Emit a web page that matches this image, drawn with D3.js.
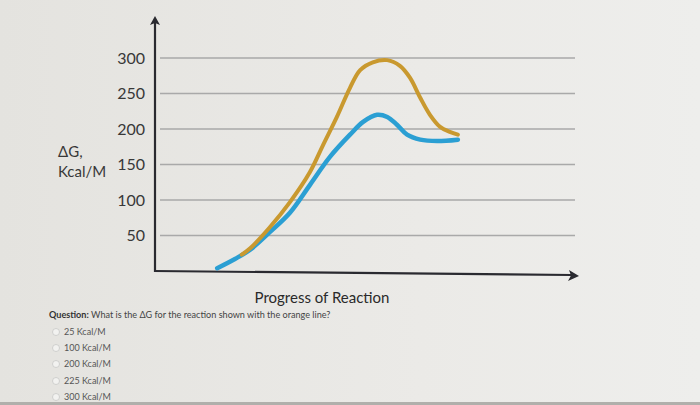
<!DOCTYPE html>
<html><head><meta charset="utf-8">
<script src="https://cdn.jsdelivr.net/npm/d3@7"></script>
<style>
html,body{margin:0;padding:0;background:#e9e8e4;}
svg{display:block;}
</style></head>
<body>
<svg id="c" width="700" height="405"></svg>
<script>
// ---- data ----
const yTicks = [50, 100, 150, 200, 250, 300];
const blueProgress = [14.7, 18.9, 22.5, 27.2, 31.9, 36.6, 41.4, 46.1, 49.2, 52.5, 54.9, 57.2, 59.6, 62.7, 66.7, 71.6];
const blueValues   = [4, 17, 30, 55, 82, 121, 161, 192, 210, 220, 217, 206, 192, 185, 183, 185];
const orangeProgress = [20.5, 22.5, 27.2, 31.9, 36.6, 39.7, 43.0, 46.1, 48.5, 51.5, 54.9, 57.9, 60.3, 62.7, 65.0, 67.4, 69.7, 71.6];
const orangeValues   = [23, 32, 62, 97, 139, 177, 217, 258, 283, 294, 297, 289, 272, 244, 220, 203, 196, 192];
const xTitle = "Progress of Reaction";
const yTitle = ["ΔG,", "Kcal/M"];
const questionLabel = "Question:";
const questionText = " What is the ΔG for the reaction shown with the orange line?";
const options = ["25 Kcal/M", "100 Kcal/M", "200 Kcal/M", "225 Kcal/M", "300 Kcal/M"];

const svg = d3.select("#c");
const font = "Lato, 'Open Sans', sans-serif";

// background
const defs = svg.append("defs");
const g1 = defs.append("linearGradient").attr("id","bg").attr("x1","0").attr("x2","1").attr("y1","0").attr("y2","0");
g1.append("stop").attr("offset","0").attr("stop-color","#e4e3df");
g1.append("stop").attr("offset","0.6").attr("stop-color","#ebeae7");
g1.append("stop").attr("offset","1").attr("stop-color","#eeeeec");
svg.append("rect").attr("width",700).attr("height",405).attr("fill","url(#bg)");
svg.append("rect").attr("y",402).attr("width",700).attr("height",3).attr("fill","#b0afab");

const x = d3.scaleLinear().domain([0, 100]).range([155, 578]);
const y = d3.scaleLinear().domain([0, 300]).range([271, 58]);

// gridlines
svg.append("g").selectAll("line").data(yTicks).join("line")
  .attr("x1", 160).attr("x2", 575)
  .attr("y1", d => y(d)).attr("y2", d => y(d))
  .attr("stroke", "#a9a9a9").attr("stroke-width", 1.6);

// y axis via d3 axis (labels only)
const yAxis = svg.append("g").attr("transform", "translate(145,0)")
  .call(d3.axisLeft(y).tickValues(yTicks).tickSize(0).tickPadding(0));
yAxis.select(".domain").remove();
yAxis.selectAll("text").attr("font-family", font).attr("font-size", 16).attr("fill", "#383838");

// axis lines with arrows
const axisColor = "#2a2a30";
svg.append("line").attr("x1", 155).attr("x2", 155).attr("y1", 272).attr("y2", 22)
  .attr("stroke", axisColor).attr("stroke-width", 2.2);
svg.append("path").attr("d", "M155,16 L150,25 L155,23 L160,25 Z").attr("fill", axisColor);
svg.append("line").attr("x1", 154).attr("x2", 572).attr("y1", 271).attr("y2", 275)
  .attr("stroke", axisColor).attr("stroke-width", 2.2);
svg.append("path").attr("d", "M579,276 L569,270 L571,275.5 L568,281 Z").attr("fill", axisColor);

// curves
const line = d3.line().x(d => x(d[0])).y(d => y(d[1])).curve(d3.curveCatmullRom.alpha(0.5));
svg.append("path").datum(blueProgress.map((p, i) => [p, blueValues[i]]))
  .attr("d", line).attr("fill", "none").attr("stroke", "#2b9fd3")
  .attr("stroke-width", 4.5).attr("stroke-linecap", "round").attr("stroke-linejoin", "round");
svg.append("path").datum(orangeProgress.map((p, i) => [p, orangeValues[i]]))
  .attr("d", line).attr("fill", "none").attr("stroke", "#c9992f")
  .attr("stroke-width", 4).attr("stroke-linecap", "round").attr("stroke-linejoin", "round");

// y title
svg.append("text").attr("x", 58).attr("y", 157).text(yTitle[0])
  .attr("font-family", font).attr("font-size", 15).attr("fill", "#383838");
svg.append("text").attr("x", 58).attr("y", 177).text(yTitle[1])
  .attr("font-family", font).attr("font-size", 15).attr("fill", "#383838");

// x title
svg.append("text").attr("x", 322).attr("y", 303).attr("text-anchor", "middle").text(xTitle)
  .attr("font-family", font).attr("font-size", 15).attr("fill", "#2a2a2a");

// question
const q = svg.append("text").attr("x", 49).attr("y", 317.5)
  .attr("font-family", font).attr("font-size", 9.1).attr("fill", "#333");
q.append("tspan").attr("font-weight", "bold").text(questionLabel);
q.append("tspan").attr("fill", "#444").text(questionText);

const optY = [332, 348, 364, 381, 397];
options.forEach((o, i) => {
  svg.append("circle").attr("cx", 56).attr("cy", optY[i]).attr("r", 3.5)
    .attr("fill", "#f2f2f0").attr("stroke", "#c8c8c6").attr("stroke-width", 0.8);
  svg.append("text").attr("x", 64).attr("y", optY[i] + 3).text(o)
    .attr("font-family", font).attr("font-size", 9).attr("fill", "#555");
});
</script>
</body></html>
